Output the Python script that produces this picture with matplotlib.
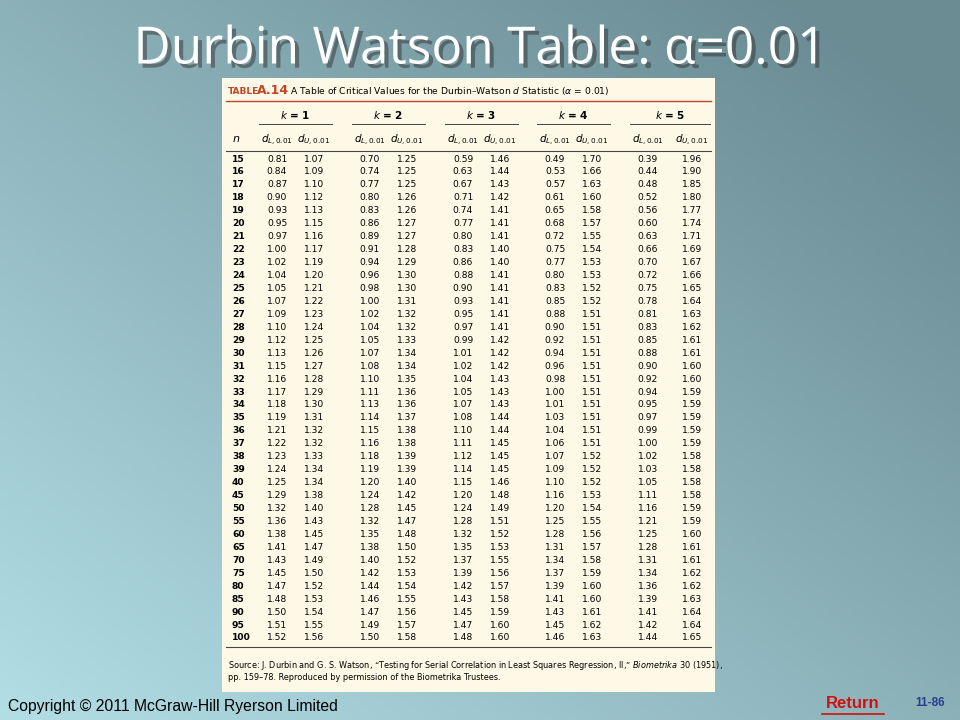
import numpy as np
import matplotlib
matplotlib.use("Agg")
import matplotlib.pyplot as plt
import matplotlib.patheffects as pe

n_values = list(range(15, 41)) + [45, 50, 55, 60, 65, 70, 75, 80, 85, 90, 95, 100]
k1_dL = [0.81,0.84,0.87,0.90,0.93,0.95,0.97,1.00,1.02,1.04,1.05,1.07,1.09,1.10,1.12,1.13,1.15,1.16,1.17,1.18,1.19,1.21,1.22,1.23,1.24,1.25,1.29,1.32,1.36,1.38,1.41,1.43,1.45,1.47,1.48,1.50,1.51,1.52]
k1_dU = [1.07,1.09,1.10,1.12,1.13,1.15,1.16,1.17,1.19,1.20,1.21,1.22,1.23,1.24,1.25,1.26,1.27,1.28,1.29,1.30,1.31,1.32,1.32,1.33,1.34,1.34,1.38,1.40,1.43,1.45,1.47,1.49,1.50,1.52,1.53,1.54,1.55,1.56]
k2_dL = [0.70,0.74,0.77,0.80,0.83,0.86,0.89,0.91,0.94,0.96,0.98,1.00,1.02,1.04,1.05,1.07,1.08,1.10,1.11,1.13,1.14,1.15,1.16,1.18,1.19,1.20,1.24,1.28,1.32,1.35,1.38,1.40,1.42,1.44,1.46,1.47,1.49,1.50]
k2_dU = [1.25,1.25,1.25,1.26,1.26,1.27,1.27,1.28,1.29,1.30,1.30,1.31,1.32,1.32,1.33,1.34,1.34,1.35,1.36,1.36,1.37,1.38,1.38,1.39,1.39,1.40,1.42,1.45,1.47,1.48,1.50,1.52,1.53,1.54,1.55,1.56,1.57,1.58]
k3_dL = [0.59,0.63,0.67,0.71,0.74,0.77,0.80,0.83,0.86,0.88,0.90,0.93,0.95,0.97,0.99,1.01,1.02,1.04,1.05,1.07,1.08,1.10,1.11,1.12,1.14,1.15,1.20,1.24,1.28,1.32,1.35,1.37,1.39,1.42,1.43,1.45,1.47,1.48]
k3_dU = [1.46,1.44,1.43,1.42,1.41,1.41,1.41,1.40,1.40,1.41,1.41,1.41,1.41,1.41,1.42,1.42,1.42,1.43,1.43,1.43,1.44,1.44,1.45,1.45,1.45,1.46,1.48,1.49,1.51,1.52,1.53,1.55,1.56,1.57,1.58,1.59,1.60,1.60]
k4_dL = [0.49,0.53,0.57,0.61,0.65,0.68,0.72,0.75,0.77,0.80,0.83,0.85,0.88,0.90,0.92,0.94,0.96,0.98,1.00,1.01,1.03,1.04,1.06,1.07,1.09,1.10,1.16,1.20,1.25,1.28,1.31,1.34,1.37,1.39,1.41,1.43,1.45,1.46]
k4_dU = [1.70,1.66,1.63,1.60,1.58,1.57,1.55,1.54,1.53,1.53,1.52,1.52,1.51,1.51,1.51,1.51,1.51,1.51,1.51,1.51,1.51,1.51,1.51,1.52,1.52,1.52,1.53,1.54,1.55,1.56,1.57,1.58,1.59,1.60,1.60,1.61,1.62,1.63]
k5_dL = [0.39,0.44,0.48,0.52,0.56,0.60,0.63,0.66,0.70,0.72,0.75,0.78,0.81,0.83,0.85,0.88,0.90,0.92,0.94,0.95,0.97,0.99,1.00,1.02,1.03,1.05,1.11,1.16,1.21,1.25,1.28,1.31,1.34,1.36,1.39,1.41,1.42,1.44]
k5_dU = [1.96,1.90,1.85,1.80,1.77,1.74,1.71,1.69,1.67,1.66,1.65,1.64,1.63,1.62,1.61,1.61,1.60,1.60,1.59,1.59,1.59,1.59,1.59,1.58,1.58,1.58,1.58,1.59,1.59,1.60,1.61,1.61,1.62,1.62,1.63,1.64,1.64,1.65]
k_labels = ["1", "2", "3", "4", "5"]

cols = [(k1_dL, k1_dU), (k2_dL, k2_dU), (k3_dL, k3_dU), (k4_dL, k4_dU), (k5_dL, k5_dU)]

fig = plt.figure(figsize=(9.6, 7.2), dpi=100)
ax = fig.add_axes([0, 0, 1, 1])
ax.set_xlim(0, 960); ax.set_ylim(720, 0); ax.axis("off")

yy, xx = np.mgrid[0:1:200j, 0:1:200j]
t = np.clip(0.55 * xx + 0.55 * (1 - yy), 0, 1)
c0 = np.array([0.70, 0.87, 0.90]); c1 = np.array([0.42, 0.55, 0.58])
img = c0[None, None, :] * (1 - t[..., None]) + c1[None, None, :] * t[..., None]
ax.imshow(img, extent=[0, 960, 720, 0], aspect="auto", zorder=0)

ax.text(480, 50, "Durbin Watson Table: α=0.01", ha="center", va="center", fontsize=37,
        color="white", family="Open Sans",
        path_effects=[pe.withSimplePatchShadow(offset=(3, -3), shadow_rgbFace="#333", alpha=0.5)], zorder=3)

ax.add_patch(plt.Rectangle((222, 78), 493, 614, facecolor="#fdf9e6", edgecolor="none", zorder=1))

fs = 6.6
ax.text(228, 91, "TABLE", fontsize=6.5, color="#c0462a", weight="bold", va="center", zorder=3)
ax.text(257, 91, "A.14", fontsize=9, color="#c0462a", weight="bold", va="center", zorder=3)
ax.text(290, 91, "A Table of Critical Values for the Durbin–Watson $d$ Statistic ($\\alpha$ = 0.01)",
        fontsize=6.6, va="center", zorder=3)
ax.plot([226, 711], [101, 101], color="#c0462a", lw=1, zorder=3)

centers = [(277, 314), (370, 407), (463, 500), (555, 592), (648, 692)]
for (xl, xu), lab in zip(centers, k_labels):
    mid = (xl + xu) / 2
    ax.text(mid, 115, "$k$ = " + lab, ha="center", va="center", fontsize=7.5, weight="bold", zorder=3)
    ax.plot([xl - 18, xu + 18], [124, 124], color="#444", lw=0.7, zorder=3)
    ax.text(xl, 140, "$d_{L,0.01}$", ha="center", va="center", fontsize=7.5, zorder=3)
    ax.text(xu, 140, "$d_{U,0.01}$", ha="center", va="center", fontsize=7.5, zorder=3)
ax.text(232, 139, "$n$", ha="left", va="center", fontsize=8, weight="bold", zorder=3)
ax.plot([226, 711], [151, 151], color="#444", lw=0.8, zorder=3)

y0, dy = 159, (638 - 159) / 37
for i, n in enumerate(n_values):
    y = y0 + i * dy
    ax.text(232, y, str(n), ha="left", va="center", fontsize=fs, weight="bold", zorder=3)
    for (xl, xu), (dl, du) in zip(centers, cols):
        ax.text(xl, y, f"{dl[i]:.2f}", ha="center", va="center", fontsize=fs, zorder=3)
        ax.text(xu, y, f"{du[i]:.2f}", ha="center", va="center", fontsize=fs, zorder=3)
ax.plot([226, 711], [647, 647], color="#444", lw=0.8, zorder=3)

ax.text(228, 665, "Source: J. Durbin and G. S. Watson, “Testing for Serial Correlation in Least Squares Regression, II,” $\\it{Biometrika}$ 30 (1951),",
        fontsize=5.9, va="center", zorder=3)
ax.text(228, 677, "pp. 159–78. Reproduced by permission of the Biometrika Trustees.", fontsize=5.9, va="center", zorder=3)

ax.text(8, 706, "Copyright © 2011 McGraw-Hill Ryerson Limited", fontsize=11.3, family="Liberation Sans", va="center", zorder=3)
ax.text(853, 704, "Return", fontsize=12, family="Liberation Sans", weight="bold", color="#d11010", ha="center", va="center", zorder=3)
ax.plot([822, 884], [714, 714], color="#d11010", lw=1.2, zorder=3)
ax.text(930, 703, "11-86", fontsize=8.5, family="Liberation Sans", weight="bold", color="#2a3d8f", ha="center", va="center", zorder=3)

fig.savefig("out.png", dpi=100)
